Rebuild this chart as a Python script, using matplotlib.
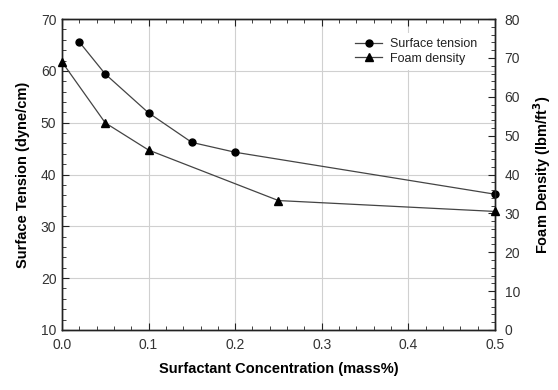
import matplotlib
matplotlib.use("Agg")
import matplotlib.pyplot as plt
from matplotlib.ticker import MultipleLocator

plt.rcParams['font.family'] = ['Liberation Sans', 'DejaVu Sans']

conc_st = [0.02, 0.05, 0.10, 0.15, 0.20, 0.50]
surface_tension = [65.6, 59.4, 51.9, 46.2, 44.3, 36.2]
conc_fd = [0.0, 0.05, 0.10, 0.25, 0.50]
foam_density = [69.0, 53.3, 46.3, 33.3, 30.5]

fig = plt.figure(figsize=(5.58, 3.9), dpi=100)
ax = fig.add_axes([0.111, 0.154, 0.776, 0.797])
ax2 = ax.twinx()

line_col = '#444444'
tc = '#333333'

l1, = ax.plot(conc_st, surface_tension, '-', color=line_col, lw=0.9,
              marker='o', ms=5, mfc='black', mec='black', clip_on=False, zorder=3)
l2, = ax2.plot(conc_fd, foam_density, '-', color=line_col, lw=0.9,
               marker='^', ms=5.5, mfc='black', mec='black', clip_on=False, zorder=3)

ax.set_xlim(0, 0.5)
ax.set_ylim(10, 70)
ax2.set_ylim(0, 80)

ax.xaxis.set_major_locator(MultipleLocator(0.1))
ax.xaxis.set_minor_locator(MultipleLocator(0.02))
ax.yaxis.set_major_locator(MultipleLocator(10))
ax.yaxis.set_minor_locator(MultipleLocator(2))
ax2.yaxis.set_major_locator(MultipleLocator(10))
ax2.yaxis.set_minor_locator(MultipleLocator(2))

ax.xaxis.set_major_formatter(plt.FuncFormatter(lambda v, p: f"{v:.1f}"))

ax.grid(True, which='major', color='#d0d0d0', lw=0.8)
ax.set_axisbelow(True)

ax.tick_params(axis='x', which='both', direction='in', top=True, bottom=True,
               colors='#222222', labelcolor=tc, labelsize=10, pad=6)
ax.tick_params(axis='x', which='major', length=5)
ax.tick_params(axis='x', which='minor', length=3)
ax.tick_params(axis='y', which='both', direction='in', left=True, right=False,
               colors='#222222', labelcolor=tc, labelsize=10, pad=4)
ax.tick_params(axis='y', which='major', length=5)
ax.tick_params(axis='y', which='minor', length=3)
ax2.tick_params(axis='y', which='both', direction='in', right=True,
                colors='#222222', labelcolor=tc, labelsize=10, pad=7)
ax2.tick_params(axis='y', which='major', length=5)
ax2.tick_params(axis='y', which='minor', length=3)

for a in (ax, ax2):
    for s in a.spines.values():
        s.set_color('#222222')
        s.set_linewidth(1.0)

ax.set_xlabel('Surfactant Concentration (mass%)', fontsize=10.5, fontweight='bold', labelpad=7)
ax.set_ylabel('Surface Tension (dyne/cm)', fontsize=10.5, fontweight='bold', labelpad=8)
ax2.set_ylabel('Foam Density (lbm/ft$^\\mathbf{3}$)', fontsize=10.5, fontweight='bold', labelpad=8)

leg = ax2.legend([l1, l2], ['Surface tension', 'Foam density'], loc='upper right',
                 bbox_to_anchor=(0.985, 0.975), frameon=True, fancybox=False,
                 edgecolor='none', facecolor='white', framealpha=1.0, fontsize=9,
                 handlelength=2.2, handletextpad=0.6, borderpad=0.4, labelspacing=0.2)
for t in leg.get_texts():
    t.set_color('#222222')

fig.savefig('out.png', dpi=100)
